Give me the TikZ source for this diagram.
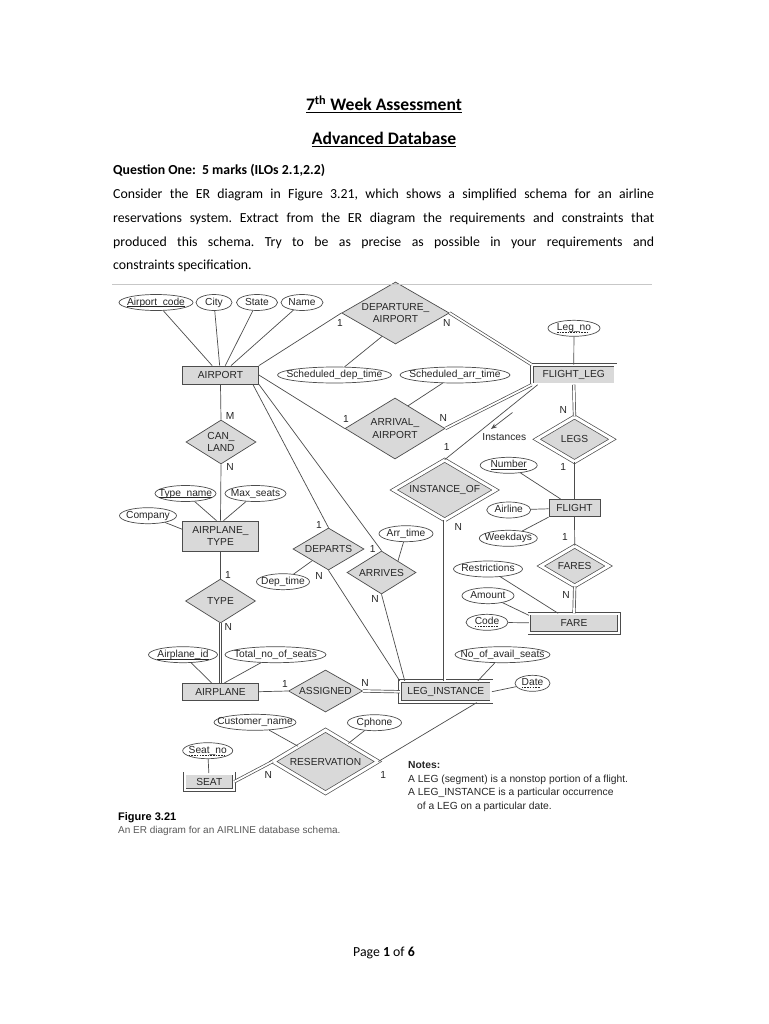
\documentclass[tikz,border=0pt]{standalone}
\usepackage{fontspec}
\setmainfont{Carlito}
\newfontfamily\figfont{Liberation Sans}
\usetikzlibrary{shapes.geometric,arrows.meta}
\frenchspacing

% sottolineature per le chiavi
\newsavebox{\ulbox}
\newcommand{\keyul}[1]{\sbox{\ulbox}{#1}\rlap{\raisebox{-1.8pt}{\rule{\wd\ulbox}{0.5pt}}}\usebox{\ulbox}}
\newcommand{\partul}[1]{\sbox{\ulbox}{#1}\rlap{\raisebox{-1.8pt}{\hbox to \wd\ulbox{\leaders\hbox{\rule{1.6pt}{0.5pt}\hspace{1.1pt}}\hfil}}}\usebox{\ulbox}}

\begin{document}
\begin{tikzpicture}[x=1pt,y=-1pt,
    bodytext/.style={font=\fontsize{13.8}{16}\selectfont, inner sep=0pt},
    fig/.style={font=\figfont\fontsize{10.2}{12.8}\selectfont, text=black!85},
    entity/.style={fig, rectangle, draw=black!70, line width=0.7pt, fill=black!15, inner sep=0pt, align=center},
    weak/.style={entity, double=white, double distance=2.2pt},
    rel/.style={fig, diamond, aspect=2, draw=black!70, line width=0.7pt, fill=black!15, inner sep=0pt, align=center},
    idrel/.style={rel, double=white, double distance=3pt},
    attr/.style={fig, ellipse, draw=black!70, line width=0.7pt, fill=white, inner xsep=-20pt, inner ysep=-10pt,
                 minimum height=16pt, text height=7.3pt, text depth=2pt},
    card/.style={fig, inner sep=0pt},
    conn/.style={draw=black!70, line width=0.7pt},
    total/.style={conn, double=white, double distance=1.8pt}]

    \fill[white] (0,0) rectangle (768,1024);
    \useasboundingbox (0,0) rectangle (768,1024);

    %intestazione
    \node[bodytext, anchor=base] (title) at (384,111)
        {\fontsize{17.6}{20}\selectfont\bfseries\underline{7\textsuperscript{th} Week Assessment}};
    \node[bodytext, anchor=base] (subject) at (384,145)
        {\fontsize{17.6}{20}\selectfont\bfseries\underline{Advanced Database}};
    \node[bodytext, anchor=base west] (question) at (113,174.5)
        {\bfseries Question One:\ \ 5 marks (ILOs 2.1,2.2)};

    %testo della domanda
    \node[bodytext, anchor=base west] (line1) at (113,199)
        {\makebox[541pt][s]{Consider the ER diagram in Figure 3.21, which shows a simplified schema for an airline}};
    \node[bodytext, anchor=base west] (line2) at (113,222.5)
        {\makebox[541pt][s]{reservations system. Extract from the ER diagram the requirements and constraints that}};
    \node[bodytext, anchor=base west] (line3) at (113,246)
        {\makebox[541pt][s]{produced this schema. Try to be as precise as possible in your requirements and}};
    \node[bodytext, anchor=base west] (line4) at (113,269.5)
        {constraints specification.};

    %entità
    \node[entity, minimum width=76pt, minimum height=18pt] (airport) at (220.5,375) {AIRPORT};
    \node[weak, minimum width=83.4pt, minimum height=19.4pt] (flightleg) at (573.7,374.7) {FLIGHT\_LEG};
    \node[entity, minimum width=76pt, minimum height=30pt] (airtype) at (220.5,536) {AIRPLANE\_\\TYPE};
    \node[entity, minimum width=76pt, minimum height=17pt] (airplane) at (220.5,691.7) {AIRPLANE};
    \node[entity, minimum width=51pt, minimum height=17.5pt] (flight) at (574.5,508) {FLIGHT};
    \node[weak, minimum width=89.4pt, minimum height=19.4pt] (fare) at (574,623.3) {FARE};
    \node[weak, minimum width=91.4pt, minimum height=21pt] (leginst) at (445.8,691.7) {LEG\_INSTANCE};
    \node[weak, minimum width=49.4pt, minimum height=16.4pt] (seat) at (209.3,781.7) {SEAT};

    %relazioni
    \node[rel, minimum width=105pt, minimum height=62pt] (depair) at (395.5,313) {DEPARTURE\_\\AIRPORT};
    \node[rel, minimum width=100pt, minimum height=61pt] (arrair) at (395,428.5) {ARRIVAL\_\\AIRPORT};
    \node[rel, minimum width=70pt, minimum height=44pt] (canland) at (221,442) {CAN\_\\LAND};
    \node[rel, minimum width=70pt, minimum height=44pt] (type) at (220.5,601) {TYPE};
    \node[rel, minimum width=71pt, minimum height=42pt] (departs) at (328.5,549) {DEPARTS};
    \node[rel, minimum width=69pt, minimum height=43pt] (arrives) at (381.5,572.5) {ARRIVES};
    \node[rel, minimum width=74pt, minimum height=42pt] (assigned) at (325.5,691) {ASSIGNED};
    \node[idrel, minimum width=102pt, minimum height=60pt] (instof) at (444.7,490) {INSTANCE\_OF};
    \node[idrel, minimum width=76pt, minimum height=45pt] (legs) at (574.5,439.3) {LEGS};
    \node[idrel, minimum width=68pt, minimum height=40pt] (fares) at (574.7,566) {FARES};
    \node[idrel, minimum width=105pt, minimum height=63pt] (reservation) at (325.5,761.5) {RESERVATION};

    %attributi
    \node[attr, minimum width=74pt] (apcode) at (156,302.5) {\keyul{Airport\_code}};
    \node[attr, minimum width=36pt] (city) at (214,302.5) {City};
    \node[attr, minimum width=41pt] (state) at (257,302.5) {State};
    \node[attr, minimum width=42pt] (name) at (302,302.5) {Name};
    \node[attr, minimum width=114pt] (schdep) at (334.5,375) {Scheduled\_dep\_time};
    \node[attr, minimum width=110pt] (schar) at (455,375) {Scheduled\_arr\_time};
    \node[attr, minimum width=52pt] (legno) at (574,328.3) {\partul{Leg\_no}};
    \node[attr, minimum width=61pt] (typename) at (185.5,493.5) {\keyul{Type\_name}};
    \node[attr, minimum width=61pt] (maxseats) at (255.5,493.5) {Max\_seats};
    \node[attr, minimum width=57pt] (company) at (148,515.7) {Company};
    \node[attr, minimum width=53pt] (deptime) at (283,581.7) {Dep\_time};
    \node[attr, minimum width=54pt] (arrtime) at (406,533.7) {Arr\_time};
    \node[attr, minimum width=57pt] (number) at (508.7,465.3) {\keyul{Number}};
    \node[attr, minimum width=44pt] (airline) at (508.7,510) {Airline};
    \node[attr, minimum width=58pt] (weekdays) at (508.3,538.3) {Weekdays};
    \node[attr, minimum width=69pt] (restr) at (488,569) {Restrictions};
    \node[attr, minimum width=52pt] (amount) at (488,595.7) {Amount};
    \node[attr, minimum width=42pt] (code) at (487,622.3) {\partul{Code}};
    \node[attr, minimum width=95pt] (noavail) at (502.5,654.7) {No\_of\_avail\_seats};
    \node[attr, minimum width=35pt] (date) at (532.5,683.3) {\partul{Date}};
    \node[attr, minimum width=69pt] (airplaneid) at (183,654.7) {\keyul{Airplane\_id}};
    \node[attr, minimum width=101pt] (totseats) at (275.5,654.7) {Total\_no\_of\_seats};
    \node[attr, minimum width=82pt] (custname) at (255,722.3) {Customer\_name};
    \node[attr, minimum width=54pt] (cphone) at (374.5,722.7) {Cphone};
    \node[attr, minimum width=50pt] (seatno) at (207.7,750.7) {\partul{Seat\_no}};

    %archi degli attributi
    \draw[conn] (apcode) -- (airport);
    \draw[conn] (city) -- (airport);
    \draw[conn] (state) -- (airport);
    \draw[conn] (name) -- (airport);
    \draw[conn] (depair.240) -- (schdep);
    \draw[conn] (schar) -- (arrair.60);
    \draw[conn] (legno) -- (flightleg);
    \draw[conn] (typename) -- ([xshift=-4pt]airtype.north);
    \draw[conn] (maxseats) -- ([xshift=3pt]airtype.north);
    \draw[conn] (company) -- (airtype.170);
    \draw[conn] (deptime) -- (departs);
    \draw[conn] (arrtime) -- (arrives.35);
    \draw[conn] (number) -- (flight);
    \draw[conn] (airline) -- (flight);
    \draw[conn] (weekdays) -- (flight.south west);
    \draw[conn] (restr) -- (fare);
    \draw[conn] (amount) -- (fare.170);
    \draw[conn] (code) -- (fare);
    \draw[conn] (noavail) -- ([xshift=-14pt]leginst.north east);
    \draw[conn] (date) -- (leginst.east);
    \draw[conn] (airplaneid) -- (airplane);
    \draw[conn] (totseats) -- ([xshift=4pt]airplane.north);
    \draw[conn] (custname) -- (reservation);
    \draw[conn] (cphone) -- (reservation);
    \draw[conn] (seatno) -- (seat);

    %archi delle relazioni
    \draw[conn] (airport.north east) -- (depair.west);
    \draw[total] (depair.east) -- (flightleg.north west);
    \draw[conn] (airport.east) -- (arrair.west);
    \draw[total] (arrair.east) -- (flightleg.south west);
    \draw[conn] ([xshift=6pt]flightleg.south west) -- (instof.north);
    \draw[total] (flightleg.south) -- (legs.north);
    \draw[conn] (legs.south) -- (flight.north);
    \draw[conn] (flight.south) -- (fares.north);
    \draw[total] (fares.south) -- (fare.north);
    \draw[total] (instof.south) -- (instof.south |- leginst.north);
    \draw[conn] (airport.south) -- (canland.north);
    \draw[conn] (canland.south) -- (airtype.north);
    \draw[conn] (airtype.south) -- (type.north);
    \draw[total] (type.south) -- (airplane.north);
    \draw[conn] ([xshift=-6pt]airport.south east) -- (departs.north);
    \draw[conn] (airport.south east) -- (arrives.north);
    \draw[conn] (departs.south) -- (leginst.north west);
    \draw[conn] (arrives.south) -- ([xshift=5pt]leginst.north west);
    \draw[conn] (airplane.east) -- (assigned.west);
    \draw[total] (assigned.east) -- (leginst.west);
    \draw[total] (seat.east) -- (reservation.west);
    \draw[conn] (reservation.east) -- ([xshift=-15pt]leginst.south east);

    %freccia instances
    \coordinate (ia) at (512.5,412.5);
    \coordinate (ib) at (491,429);
    \draw[conn, -{Stealth[length=6pt,width=4.5pt]}] (ia) -- (ib);
    \node[card] (instances) at (504.3,437.5) {Instances};

    %cardinalità
    \node[card] (c1) at (340,323) {1};
    \node[card] (c2) at (446.7,323.3) {N};
    \node[card] (c3) at (346,419.3) {1};
    \node[card] (c4) at (443.3,418.3) {N};
    \node[card] (c5) at (446.7,447.3) {1};
    \node[card] (c6) at (563.3,410) {N};
    \node[card] (c7) at (563.3,467.3) {1};
    \node[card] (c8) at (565,537.3) {1};
    \node[card] (c9) at (566,595) {N};
    \node[card] (c10) at (458.3,526.7) {N};
    \node[card] (c11) at (230,416) {M};
    \node[card] (c12) at (230,467) {N};
    \node[card] (c13) at (228,575) {1};
    \node[card] (c14) at (228.3,626.7) {N};
    \node[card] (c15) at (319,524.5) {1};
    \node[card] (c16) at (319,575.5) {N};
    \node[card] (c17) at (372.7,549.3) {1};
    \node[card] (c18) at (375,599) {N};
    \node[card] (c19) at (285,684) {1};
    \node[card] (c20) at (365,682.7) {N};
    \node[card] (c21) at (268.3,775) {N};
    \node[card] (c22) at (383.3,775) {1};

    %note
    \node[fig, anchor=north west, align=left, inner sep=0pt, font=\figfont\fontsize{10.3}{13.8}\selectfont] (notes) at (408,761)
        {\textbf{Notes:}\\A LEG (segment) is a nonstop portion of a flight.\\A LEG\_INSTANCE is a particular occurrence\\\hspace*{9pt}of a LEG on a particular date.};

    %didascalia
    \node[fig, anchor=base west, inner sep=0pt, text=black, font=\figfont\bfseries\fontsize{11}{13}\selectfont] (figno) at (118,820.5) {Figure 3.21};
    \node[fig, anchor=base west, inner sep=0pt, text=black!65, font=\figfont\fontsize{10}{12}\selectfont] (caption) at (118,833.5) {An ER diagram for an AIRLINE database schema.};

    %bordo superiore della figura
    \draw[black!22, line width=1.6pt] (112,284.5) -- (652,284.5);

    %piè di pagina
    \node[bodytext, anchor=base] (footer) at (384,956) {Page \textbf{1} of \textbf{6}};

\end{tikzpicture}
\end{document}
